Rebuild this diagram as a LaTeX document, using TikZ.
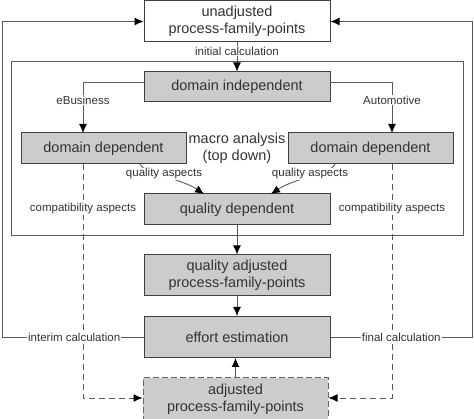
\documentclass[tikz,border=0pt]{standalone}
\usepackage{fontspec}
\setmainfont{Liberation Sans}
\usetikzlibrary{arrows.meta}
\definecolor{boxgray}{HTML}{CCCCCC}
\definecolor{linegray}{HTML}{5A5A5A}
\definecolor{txt}{HTML}{333333}
\begin{document}
\begin{tikzpicture}[x=1pt,y=-1pt,
  box/.style={draw=black!75, line width=1pt, fill=boxgray, minimum width=186pt, align=center, inner sep=1pt, text=txt, font=\fontsize{14.5}{17}\selectfont},
  lbl/.style={fill=white, inner sep=1pt, text=txt, font=\fontsize{11.5}{13}\selectfont},
  conn/.style={draw=linegray, line width=0.9pt},
  tip/.style={-{Latex[length=9pt,width=8pt,color=black,fill=black]}},
  arr/.style={conn, tip},
  dsh/.style={conn, dashed, dash pattern=on 6pt off 4pt}]
\useasboundingbox (0,0) rectangle (474,419);
% outer frame
\draw[conn] (11,61) rectangle (463,235);
% nodes
\node[box, fill=white, minimum height=41pt] (top) at (237,21.5) {unadjusted\\process-family-points};
\node[box, minimum height=30pt] (di) at (237,87) {domain independent};
\node[box, minimum width=165pt, minimum height=31pt] (ddl) at (103.5,148.5) {domain dependent};
\node[box, minimum width=165pt, minimum height=31pt] (ddr) at (370.5,148.5) {domain dependent};
\node[text=txt, align=center, font=\fontsize{14.5}{17}\selectfont, inner sep=0pt] (macro) at (237,148) {macro analysis\\(top down)};
\node[box, minimum height=31pt] (qd) at (237,209.5) {quality dependent};
\node[box, minimum height=41pt] (qa) at (237,275.5) {quality adjusted\\process-family-points};
\node[box, minimum height=41pt] (ee) at (237,337) {effort estimation};
\node[box, dashed, dash pattern=on 6pt off 3pt, draw=black!60, minimum width=185pt, minimum height=42pt] (adj) at (235.5,399) {adjusted\\process-family-points};
% coordinates
\coordinate (lt) at (2,21.5);
\coordinate (lb) at (2,337);
\coordinate (rt) at (472,21.5);
\coordinate (rb) at (472,337);
\coordinate (eb0) at (144,82);
\coordinate (eb1) at (83,82);
\coordinate (eb2) at (83,133);
\coordinate (au0) at (330,82);
\coordinate (au1) at (392,82);
\coordinate (au2) at (392,133);
\coordinate (cl0) at (83,164);
\coordinate (cl1) at (83,398);
\coordinate (cr0) at (392,164);
\coordinate (cr1) at (392,398);
\coordinate (ql0) at (140,164);
\coordinate (ql1) at (204,194);
\coordinate (qr0) at (335,164);
\coordinate (qr1) at (271,194);
% connectors
\draw[arr] (top.south) -- node[lbl, pos=0.3] {initial calculation} (di.north);
\draw[arr] (eb0) -- (eb1) -- (eb2);
\node[lbl] at (83,100) {eBusiness};
\draw[arr] (au0) -- (au1) -- (au2);
\node[lbl] at (392,100) {Automotive};
\draw[arr] (ql0) .. controls (144,174) and (180,178) .. (ql1);
\node[lbl] at (164,174) {quality aspects};
\draw[arr] (qr0) .. controls (331,174) and (295,178) .. (qr1);
\node[lbl] at (310,174) {quality aspects};
\draw[dsh, tip] (cl0) -- (cl1) -- (adj.west |- cl1);
\draw[dsh, tip] (cr0) -- (cr1) -- (adj.east |- cr1);
\node[lbl] at (83,209) {compatibility aspects};
\node[lbl] at (392,209) {compatibility aspects};
\draw[arr] (qd.south) -- (qa.north);
\draw[arr] (qa.south) -- (ee.north);
\draw[arr] (adj.north) -- (adj.north |- ee.south);
\draw[arr] (ee.west) -- node[lbl, pos=0.49] {interim calculation} (lb) -- (lt) -- (top.west);
\draw[arr] (ee.east) -- node[lbl, pos=0.5] {final calculation} (rb) -- (rt) -- (top.east);
\end{tikzpicture}
\end{document}
